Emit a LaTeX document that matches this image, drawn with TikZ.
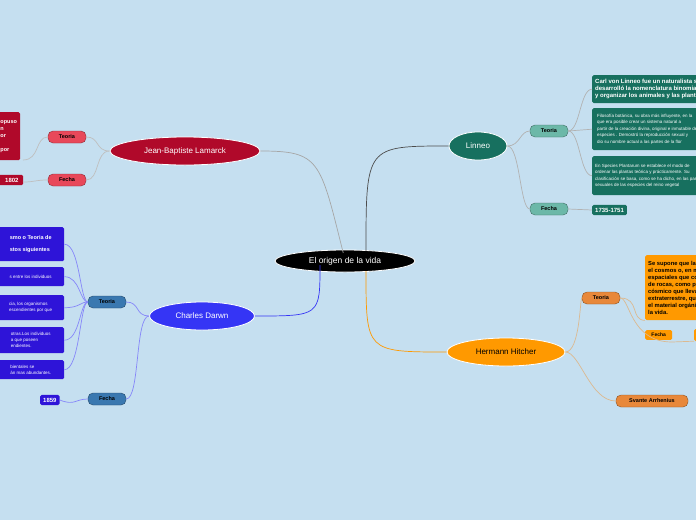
\documentclass[tikz,border=0pt]{standalone}
\usepackage{fontspec}
\setmainfont{Liberation Sans}
\usetikzlibrary{shapes.geometric}
\definecolor{bg}{HTML}{C5DFF0}
\definecolor{lred}{HTML}{B0092A}
\definecolor{pred}{HTML}{E8485A}
\definecolor{dblue}{HTML}{3535F5}
\definecolor{bbox}{HTML}{2E14D8}
\definecolor{pblue}{HTML}{3A78B0}
\definecolor{teal}{HTML}{17705F}
\definecolor{pteal}{HTML}{6CB8A8}
\definecolor{orn}{HTML}{FF9900}
\definecolor{porn}{HTML}{E8883A}
\tikzset{
 main/.style={ellipse,draw=white,line width=0.8pt,minimum width=#1,minimum height=28pt,inner sep=0pt,text=white,font=\fontsize{8}{9}\selectfont},
 pill/.style={rounded corners=5pt,draw=#1!60!black,minimum width=38pt,minimum height=12pt,inner sep=1pt,font=\fontsize{5.5}{6}\selectfont\bfseries},
 tbox/.style={fill=#1,rounded corners=1.5pt,text=white,align=left,inner sep=3pt,anchor=north west},
 con/.style={line width=0.7pt}
}
\begin{document}
\begin{tikzpicture}[x=1pt,y=-1pt]
\fill[bg] (0,0) rectangle (696,520);
\clip (0,0) rectangle (696,520);
\useasboundingbox (0,0) rectangle (696,520);
% center
\node[ellipse,fill=black,draw=white,line width=0.8pt,minimum width=140pt,minimum height=22pt,inner sep=0pt,text=white,font=\fontsize{8.5}{9}\selectfont] (c) at (345,261) {El origen de la vida};
% main nodes
\node[main=150pt,fill=lred] (la) at (185,151) {Jean-Baptiste Lamarck};
\node[main=105pt,fill=dblue] (da) at (202,316) {Charles Darwn};
\node[main=58pt,fill=teal] (li) at (478,146) {Linneo};
\node[main=118pt,fill=orn,text=black] (hi) at (506,352) {Hermann Hitcher};
% center connectors
\draw[con,gray!70] (c.north west)++(48,0) coordinate (c1) .. controls (320,160) and (320,151) .. (la.east);
\draw[con,dblue] (320,265) .. controls (320,316) and (320,316) .. (da.east);
\draw[con,black!70] (366,251) .. controls (366,146) and (366,146) .. (li.west);
\draw[con,orn] (366,271) .. controls (366,352) and (366,352) .. (hi.west);
% Lamarck
\node[pill=pred,fill=pred] (lt) at (67,137) {Teoria};
\node[pill=pred,fill=pred] (lf) at (67,180) {Fecha};
\node[tbox=lred,minimum width=23pt,minimum height=48pt,font=\fontsize{5.5}{7}\selectfont\bfseries] (lb1) at (-3,112) {opuso\\n\\or\\\\ por};
\node[tbox=lred,minimum width=26pt,font=\fontsize{6}{7}\selectfont\bfseries,anchor=west] (lb2) at (-3,180) {\ \ 1802};
\draw[con,gray!50] (la.west) .. controls (95,151) and (100,137) .. (lt.east);
\draw[con,gray!50] (la.west) .. controls (95,151) and (100,180) .. (lf.east);
\draw[con,gray!50] (lt.west) .. controls (35,137) and (40,160) .. (23,160);
\draw[con,gray!50] (lf.west) .. controls (35,180) and (35,182) .. (23,182);
% Darwin
\node[pill=pblue,fill=pblue] (dt) at (107,302) {Teoria};
\node[pill=pblue,fill=pblue] (df) at (107,399) {Fecha};
\tikzset{dbx/.style={tbox=bbox,minimum width=67pt,font=\fontsize{4.5}{6}\selectfont}}
\node[dbx,minimum height=34pt,font=\fontsize{5.5}{8}\selectfont\bfseries] (d1) at (-3,227) {smo o Teoria de\\[4pt]stos siguientes};
\node[dbx,minimum height=19pt] (d2) at (-3,267) {s entre los individuos};
\node[dbx,minimum height=25pt] (d3) at (-3,295) {cia, los organismos\\escendientes por que};
\node[dbx,minimum height=26pt] (d4) at (-3,327) {otras.Los individuos\\a que poseen\\endientes.};
\node[dbx,minimum height=19pt] (d5) at (-3,360) {bientales se\\án mas abundantes.};
\node[tbox=bbox,anchor=west,font=\fontsize{6}{7}\selectfont\bfseries] (d6) at (40,400) {1859};
\draw[con,dblue!60] (da.west) .. controls (135,316) and (140,302) .. (dt.east);
\draw[con,dblue!60] (da.west) .. controls (135,316) and (140,399) .. (df.east);
\foreach \n in {d1,d2,d3,d4,d5}{\draw[con,dblue!60] (dt.west) .. controls (80,302) and (80,0|-\n.east) .. (\n.east);}
\draw[con,dblue!60] (df.west) .. controls (75,399) and (75,406) .. (d6.east);
% Linneo
\node[pill=pteal,fill=pteal] (lit) at (549,131) {Teoria};
\node[pill=pteal,fill=pteal] (lif) at (549,209) {Fecha};
\node[tbox=teal,minimum width=110pt,minimum height=28pt,font=\fontsize{6}{7}\selectfont\bfseries] (l1) at (592,75) {Carl von Linneo fue un naturalista sueco que\\desarrolló la nomenclatura binomial para clasificar\\y organizar  los animales y las plantas.};
\node[tbox=teal,minimum width=110pt,minimum height=42pt,font=\fontsize{4.5}{6.5}\selectfont] (l2) at (592,108) {Filosofía botánica, su obra más influyente, en la\\que era posible crear un sistema natural a\\partir de la creación divina, original e inmutable de\\especies . Demostró la reproducción sexual y\\dio su nombre actual a las partes de la flor};
\node[tbox=teal,minimum width=110pt,minimum height=39pt,font=\fontsize{4.5}{6.5}\selectfont] (l3) at (592,156) {En Species Plantarum se establece el modo de\\ordenar las plantas teórica y prácticamente. Su\\clasificación se basa, como se ha dicho, en las partes\\sexuales de las especies del reino vegetal};
\node[tbox=teal,anchor=west,font=\fontsize{6}{7}\selectfont\bfseries] (l4) at (592,210) {1735-1751};
\draw[con,gray!60] (li.east) .. controls (520,146) and (520,131) .. (lit.west);
\draw[con,gray!60] (li.east) .. controls (520,146) and (520,209) .. (lif.west);
\foreach \n in {l1,l2,l3}{\draw[con,gray!60] (lit.east) .. controls (580,131) and (580,0|-\n.west) .. (\n.west);}
\draw[con,gray!60] (lif.east) .. controls (580,209) and (580,210) .. (l4.west);
% Hitcher
\node[pill=porn,fill=porn] (ht) at (601,298) {Teoria};
\node[pill=porn,fill=porn,minimum width=72pt] (hs) at (652,401) {Svante Arrhenius};
\node[tbox=orn,text=black,minimum width=60pt,minimum height=65pt,font=\fontsize{5.8}{7}\selectfont\bfseries] (h1) at (645,255) {Se supone que la vida llegó desde\\el cosmos o, en meteoritos u objetos\\espaciales que contenían trozos\\de rocas, como polvo\\cósmico que llevaba vida\\extraterrestre, que contenía\\el material orgánico que originó\\la vida.};
\node[tbox=orn,text=black,anchor=west,minimum width=27pt,font=\fontsize{5}{6}\selectfont\bfseries] (h2) at (645,335) {Fecha};
\node[tbox=orn,anchor=west,minimum width=20pt,minimum height=12pt] (h3) at (694,335) {};
\draw[con,orange!40!bg] (hi.east) .. controls (580,352) and (580,298) .. (ht.west);
\draw[con,orange!40!bg] (hi.east) .. controls (580,352) and (590,401) .. (hs.west);
\draw[con,orange!40!bg] (ht.east) .. controls (640,298) and (630,320) .. (h1.south west);
\draw[con,orange!40!bg] (ht.east) .. controls (630,298) and (630,342) .. (672,342) -- (h3.south west);
\end{tikzpicture}
\end{document}
